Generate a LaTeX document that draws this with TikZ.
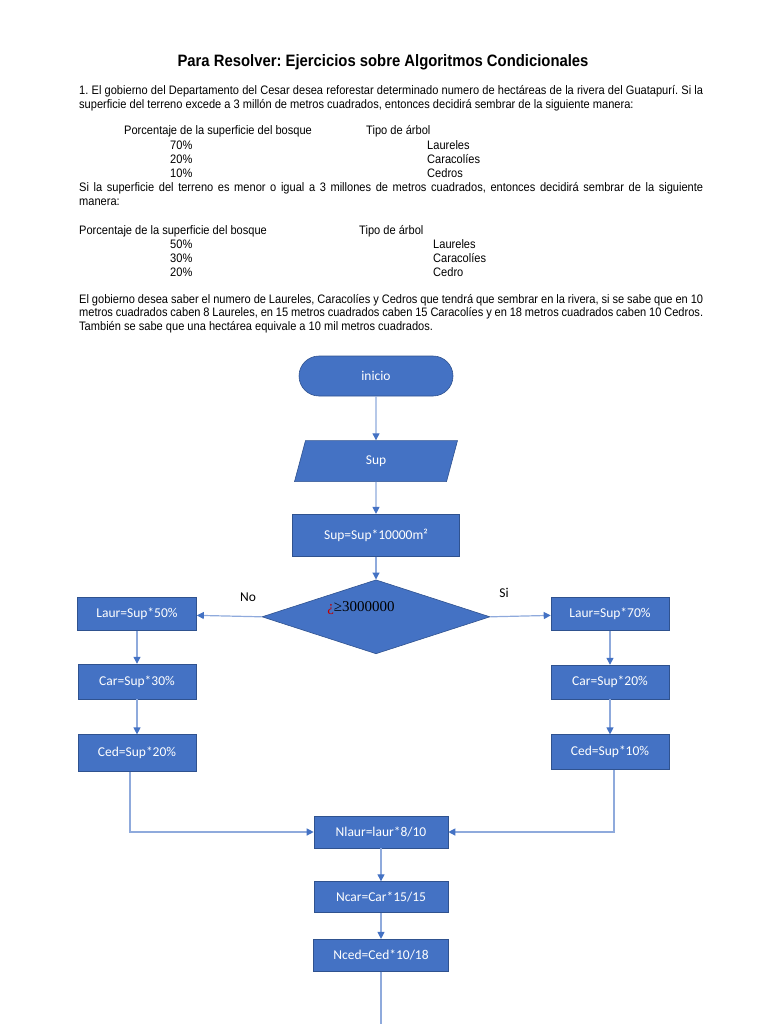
\documentclass[tikz,border=0pt]{standalone}
\usepackage{fontspec}
\setmainfont[FakeStretch=0.9]{Liberation Sans}
\newfontfamily\boxfont{Carlito}
\newfontfamily\serfont{Liberation Serif}
\usepackage{xcolor}
\usepackage{tikz}
\usetikzlibrary{shapes.geometric, arrows.meta, positioning}
\definecolor{boxblue}{RGB}{68,114,196}
\definecolor{edgeblue}{RGB}{47,82,143}
\definecolor{lineblue}{RGB}{143,170,220}
\definecolor{tipblue}{RGB}{68,114,196}
\definecolor{qred}{RGB}{192,0,0}
\frenchspacing
\hyphenpenalty=10000
\tolerance=10000
\hbadness=10000
\tikzset{
  block/.style={rectangle, draw=edgeblue, fill=boxblue, text=white,
    font=\boxfont\fontsize{13.5}{15}\selectfont, line width=0.6pt,
    inner sep=0pt, minimum width=118pt, minimum height=34pt},
  termblock/.style={block, rounded corners=20pt, minimum width=154pt,
    minimum height=40pt},
  ioblock/.style={block, trapezium, trapezium left angle=75,
    trapezium right angle=105, trapezium stretches body,
    text height=9pt, text depth=3pt, inner ysep=14.5pt,
    minimum width=163pt, minimum height=41pt},
  decblock/.style={block, diamond, minimum width=228pt, minimum height=74pt},
  txt/.style={font=\fontsize{12.3}{13.8}\selectfont, inner sep=0pt,
    anchor=base west},
  arrow/.style={-{Triangle[length=7pt, width=7pt, color=tipblue]},
    color=lineblue, line width=1.2pt},
  line/.style={color=lineblue, line width=1.2pt}
}

\begin{document}
\begin{tikzpicture}[x=1pt, y=-1pt,
  lbl/.style={font=\boxfont\fontsize{13.5}{15}\selectfont, inner sep=0pt}]
  \useasboundingbox (0,0) rectangle (768,1024);

  % Enunciado
  \node[font=\fontsize{16.5}{19}\selectfont\bfseries, inner sep=0pt] (titulo)
    at (383,62) {Para Resolver: Ejercicios sobre Algoritmos Condicionales};
  \node[txt, text width=624pt, align=justify] (parr1) at (79,95)
    {1. El gobierno del Departamento del Cesar desea reforestar determinado numero de hectáreas de la rivera del Guatapurí. Si la\linebreak
     superficie del terreno excede a 3 millón de metros cuadrados, entonces decidirá sembrar de la siguiente manera:};
  \node[txt] (encA1) at (124,135) {Porcentaje de la superficie del bosque};
  \node[txt] (encA2) at (366,135) {Tipo de árbol};
  \node[txt] (pctA1) at (170,150) {70\%};
  \node[txt] (pctA2) at (170,164) {20\%};
  \node[txt] (pctA3) at (170,178) {10\%};
  \node[txt] (arbA1) at (427,150) {Laureles};
  \node[txt] (arbA2) at (427,164) {Caracolíes};
  \node[txt] (arbA3) at (427,178) {Cedros};
  \node[txt, text width=624pt, align=justify] (parr2) at (79,192)
    {Si la superficie del terreno es menor o igual a 3 millones de metros cuadrados, entonces decidirá sembrar de la siguiente\linebreak
     manera:};
  \node[txt] (encB1) at (79,234) {Porcentaje de la superficie del bosque};
  \node[txt] (encB2) at (359,234) {Tipo de árbol};
  \node[txt] (pctB1) at (170,248) {50\%};
  \node[txt] (pctB2) at (170,262) {30\%};
  \node[txt] (pctB3) at (170,276) {20\%};
  \node[txt] (arbB1) at (433,248) {Laureles};
  \node[txt] (arbB2) at (433,262) {Caracolíes};
  \node[txt] (arbB3) at (433,276) {Cedro};
  \node[txt, text width=624pt, align=justify] (parr3) at (79,303)
    {El gobierno desea saber el numero de Laureles, Caracolíes y Cedros que tendrá que sembrar en la rivera, si se sabe que en 10\linebreak
     metros cuadrados caben 8 Laureles, en 15 metros cuadrados caben 15 Caracolíes y en 18 metros cuadrados caben 10 Cedros.\linebreak
     También se sabe que una hectárea equivale a 10 mil metros cuadrados.};

  % Diagrama de flujo
  \node[termblock] (inicio) at (376,376) {inicio};
  \node[ioblock, below=44pt of inicio] (sup) {Sup};
  \node[block, minimum width=167pt, minimum height=42pt, below=32pt of sup] (conv) {Sup=Sup*10000m²};
  \node[decblock, below=23pt of conv] (cond) {};
  \node[font=\serfont\fontsize{15}{17}\selectfont, inner sep=0pt] (condtxt)
    at (361,608) {\textcolor{qred}{¿}≥3000000};
  \node[lbl] (no) at (248,597) {No};
  \node[lbl] (si) at (504,593) {Si};

  % Rama No
  \node[block, minimum width=119pt, minimum height=33pt] (laur50) at (137,614) {Laur=Sup*50\%};
  \node[block, minimum height=35pt, below=33pt of laur50] (car30) {Car=Sup*30\%};
  \node[block, minimum height=37pt, below=35pt of car30] (ced20) {Ced=Sup*20\%};

  % Rama Si
  \node[block, minimum height=33pt] (laur70) at (610,614) {Laur=Sup*70\%};
  \node[block, below=34pt of laur70] (car20) {Car=Sup*20\%};
  \node[block, minimum height=35pt, below=35pt of car20] (ced10) {Ced=Sup*10\%};

  % Calculo final
  \node[block, minimum width=134pt, minimum height=32pt] (nlaur) at (381,832) {Nlaur=laur*8/10};
  \node[block, minimum width=134pt, minimum height=31pt, below=33pt of nlaur] (ncar) {Ncar=Car*15/15};
  \node[block, minimum width=135pt, minimum height=32pt, below=26pt of ncar] (nced) {Nced=Ced*10/18};
  \coordinate[below=54pt of nced] (fin);

  \draw[arrow] (inicio) -- (sup);
  \draw[arrow] (sup) -- (conv);
  \draw[arrow] (conv) -- (cond);
  \draw[arrow] (cond.west) -- (laur50);
  \draw[arrow] (cond.east) -- (laur70);
  \draw[arrow] (laur50) -- (car30);
  \draw[arrow] (car30) -- (ced20);
  \draw[arrow] (laur70) -- (car20);
  \draw[arrow] (car20) -- (ced10);
  \draw[arrow] ([xshift=-7pt]ced20.south) |- (nlaur);
  \draw[arrow] ([xshift=4pt]ced10.south) |- (nlaur);
  \draw[arrow] (nlaur) -- (ncar);
  \draw[arrow] (ncar) -- (nced);
  \draw[line] (nced) -- (fin);
\end{tikzpicture}
\end{document}
